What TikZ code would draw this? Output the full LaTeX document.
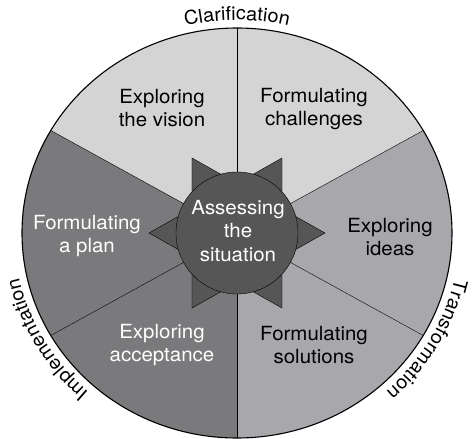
\documentclass[tikz,border=0pt]{standalone}
\usepackage{fontspec}
\setmainfont{TeX Gyre Heros}[FakeStretch=1.05]
\usepackage{tikz}
\usetikzlibrary{positioning}
\usetikzlibrary{decorations.text}

\definecolor{lightsec}{RGB}{212,212,212}
\definecolor{midsec}{RGB}{168,168,172}
\definecolor{darksec}{RGB}{122,122,124}
\definecolor{hub}{RGB}{86,86,86}

\newcommand{\wheelfont}{\fontsize{19.5}{23.5}\selectfont}
\newcommand{\rimfont}{\fontsize{19}{23}\selectfont}

\begin{document}
\begin{tikzpicture}[x=1pt,y=1pt,
		sector/.style={align=center,font=\wheelfont},
		arclabel/.style={decorate,decoration={text along path,text align=center,text={#1}}}]
		\useasboundingbox (-237,-206) rectangle (237,233);
		
		% the six parts of the wheel
		\foreach \a/\c in {30/lightsec,90/lightsec,150/darksec,210/darksec,270/midsec,330/midsec}
			\fill[\c] (0,0) -- (\a:215 and 205) arc[start angle=\a,delta angle=60,x radius=215,y radius=205] -- cycle;
		\foreach \a in {30,90,...,330}
			\draw (0,0) -- (\a:215 and 205);
		\draw[line width=1.1pt] (0,0) ellipse[x radius=215,y radius=205];
		
		% star behind the hub
		\draw[fill=hub] (-88,0) -- (45,75) -- (45,-75) -- cycle;
		\draw[fill=hub] (88,0) -- (-45,75) -- (-45,-75) -- cycle;
		\draw[fill=hub] (0,0) circle (61);
		
		\node[sector] (vision) at (-75,125) {Exploring\\the vision};
		\node[sector] (challenges) at (77,124) {Formulating\\challenges};
		\node[sector] (ideas) at (153,-4) {Exploring\\ideas};
		\node[sector] (solutions) at (77,-112) {Formulating\\solutions};
		\node[sector,text=white] (acceptance) at (-75,-112) {Exploring\\acceptance};
		\node[sector,text=white] (plan) at (-150,-3) {Formulating\\a plan};
		\node[sector,text=white] (situation) at (1,2) {Assessing\\the\\situation};
		
		% labels round the rim
		\path[arclabel={|\rimfont|Clarification}] (115:223 and 213) arc[start angle=115,end angle=65,x radius=223,y radius=213];
		\path[arclabel={|\rimfont|Transformation}] (5:223 and 213) arc[start angle=5,end angle=-65,x radius=223,y radius=213];
		\path[arclabel={|\rimfont|Implementation}] (245:223 and 213) arc[start angle=245,end angle=175,x radius=223,y radius=213];
	\end{tikzpicture}
\end{document}
